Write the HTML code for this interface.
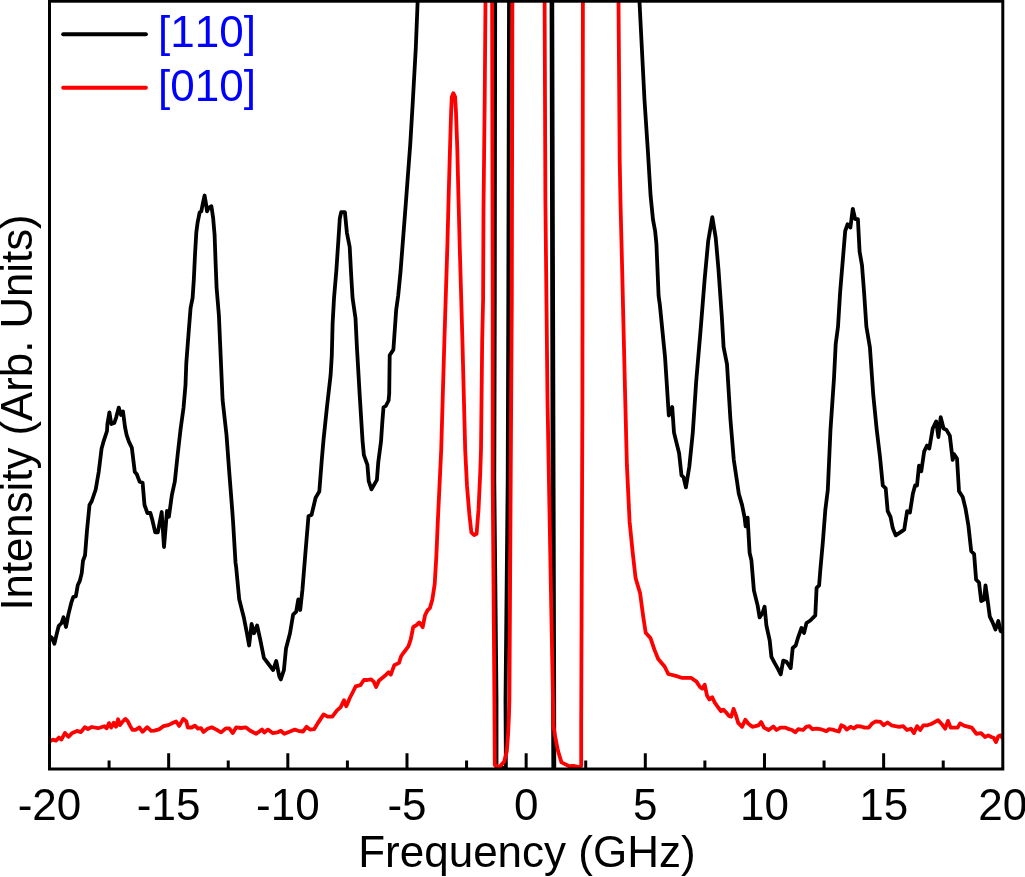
<!DOCTYPE html>
<html><head><meta charset="utf-8"><title>Brillouin spectra</title>
<style>
html,body{margin:0;padding:0;background:#fff;}
svg{display:block;}
text{font-family:"Liberation Sans",sans-serif;font-kerning:none;}
</style></head>
<body>
<svg width="1025" height="877" viewBox="0 0 1025 877">
<rect width="1025" height="877" fill="#fff"/>
<defs><clipPath id="c"><rect x="49.5" y="1.2" width="953.3" height="767.8"/></clipPath></defs>
<g clip-path="url(#c)" fill="none" stroke-linejoin="round" stroke-linecap="round">
<path d="M50.5 636.8 L51.8 637.8 L54.4 643.7 L56.7 634 L58.7 626 L61.6 623 L63.5 617.3 L66 627 L68.4 614.4 L71.3 602.7 L73.3 596.8 L75.8 596.4 L77.8 585 L79.7 581.2 L81.7 573.4 L83 560.7 L85 555.5 L87 530.5 L89.5 505 L91.8 501 L95.7 489.5 L98.7 472 L101.6 448.5 L103.5 441.7 L107 431 L107.4 424 L109.4 412.4 L111.3 424 L114.3 423 L116.2 417.3 L118.8 407.6 L121 415 L123 411.5 L125 427 L126.6 434.9 L128.9 441.7 L131.8 447.6 L134.8 472 L136.7 474 L139.6 481.7 L142.6 482.7 L144.5 505 L147.4 513 L150.4 513 L152.3 519.8 L155.2 532.4 L157.8 532.4 L161.7 512 L164 547 L167 511 L168.9 516.8 L171.8 495.4 L174.8 481.7 L177.7 454.4 L180.6 429 L183.5 408 L185.5 385 L186.3 363 L188.8 330.4 L190.6 307.8 L192.6 297.8 L193.8 280 L195 255 L196.3 232.6 L197.6 222.6 L199.6 212.6 L201.3 211.3 L203 202.6 L204.6 195.5 L205.8 202.6 L207 211.3 L208.8 207.6 L211.4 206.3 L213.1 217.6 L214.6 235 L215.6 262.7 L216.6 287.8 L218.9 315.3 L220.1 343 L221.4 373 L222.6 400 L226.5 434.9 L229.4 474 L232.3 511 L233.1 522.4 L235.5 562.4 L236.2 567.6 L239.2 599.3 L243.9 617.8 L246.9 633.2 L249.1 645.5 L251.6 624 L254 633.2 L257.1 625.5 L260.2 639.4 L263.9 657.8 L268.5 664 L273.1 670.1 L276.2 661 L279.3 676.3 L280.8 679.4 L283.9 670.1 L286 648.6 L290 633.2 L293.1 614.7 L296.2 611.6 L298.3 599.3 L300.2 610 L302.4 590 L305.4 553.2 L308.5 516.2 L311.6 514.7 L315.6 497.7 L319.3 491.6 L321.7 460.8 L323.5 440 L327 406.6 L330.6 375.3 L331.8 355.3 L332.6 324 L334 298.3 L336.4 269.8 L338.3 241.3 L339.8 218.5 L341.2 212.2 L344.9 212.2 L346.9 232.8 L349.7 247 L351.2 275.5 L352.6 298.3 L355.5 318.3 L356.9 346.8 L359.7 395.2 L362.6 441.6 L363.9 455.2 L367.4 464.8 L368.7 481.2 L371.5 489.4 L376.9 479.9 L378.3 462 L381 441.6 L382.4 421 L383.5 407.4 L385.8 406 L388.6 400.5 L389.2 393.7 L389.7 355.3 L393.4 349.6 L396.2 309.7 L398.2 295.5 L400.5 272 L405.5 207.5 L410.3 143.7 L412.6 105 L415.8 47.9 L417.7 0 L418.5 -30 L494.5 -30 L495.2 0 L494.8 300 L494.3 480 L496.5 700 L496.5 768 L505.9 768 L505.5 700 L507.7 480 L508.3 300 L509 0 L509.5 -30 L551 -30 L551.5 0 L553 700 L553.3 768 L554.3 768 L554.2 700 L552.3 0 L552.3 -30 L638.5 -30 L639.4 0 L644.5 100 L647.9 151.3 L650.6 195.8 L653 219.7 L655.1 230.8 L656.4 243.7 L658.6 295.8 L659.9 305.3 L663.7 343.7 L665 356.6 L666.4 377.9 L668.8 415.5 L672.2 407 L674 432.6 L679.1 453.2 L681.5 475.4 L683.5 477.1 L685.9 487.4 L689.3 466.8 L692.8 432.6 L696.2 381.3 L700.6 330 L704.7 278.7 L708.2 241 L712.3 217.1 L715.7 237.6 L718.4 268.4 L721.8 316.3 L723.6 347.1 L727 364.2 L730.4 419 L733.8 460 L737.1 482 L738.8 493.8 L742.1 505.1 L744.6 517.6 L745.6 526.4 L747.6 517.6 L749.6 552.7 L751.4 560.3 L753.9 590.4 L757.6 605.4 L759.6 617.4 L762.6 612.9 L764.6 606.7 L766.4 625.5 L769.7 640.5 L771.4 656.8 L774.7 663.1 L778.2 669.4 L780.7 674.4 L783.2 660.6 L786.5 661.8 L790.7 668.1 L792.7 648 L795.7 645.5 L798.3 636.8 L801.5 628 L804 633 L806.5 623 L810.3 620.5 L814.1 616.7 L815.3 615.4 L816.6 587.8 L819.1 585.3 L820.3 570.3 L822.8 542.7 L825.3 510.1 L827.8 490 L830.5 429.5 L834 378.2 L835.7 344 L838 326.8 L840.1 292.6 L843.5 251.6 L845.2 231 L847.6 224.2 L850.4 227.6 L852.8 208.8 L855.2 219.1 L857.9 219.1 L859.6 251.6 L862 265.3 L864.1 292.6 L866.4 326.8 L869.9 347.4 L873.3 395.3 L876.7 429.5 L880 457 L882.8 485.5 L885.7 488.4 L887.7 511.2 L890.5 516.9 L892.8 528.3 L895.7 535.4 L899.9 532.6 L904.2 529.7 L907.1 511.2 L909.9 512.6 L912.8 494.1 L915.1 485.5 L917 485.5 L919 465.6 L921.3 471.3 L924.2 451.3 L927 445.6 L929.3 448.5 L932.7 428.5 L936.2 421.4 L938.4 437.1 L940.7 417.1 L943.6 428.5 L946.4 429.9 L949.8 435.6 L952.7 459.9 L954.1 454.2 L957 458.5 L959 491.2 L962.7 497 L965.5 508.4 L968.4 525.5 L971.2 551.1 L974.1 554 L976.1 579.6 L979 582.5 L981.2 601 L984.1 599.6 L985.5 585.3 L987.5 599.6 L989.8 616.7 L992.6 622.4 L995.5 629.5 L998.3 621 L1000.6 631 L1002.5 632" stroke="#000" stroke-width="3.8"/>
<path d="M49.7 741.5 L52.8 739.6 L55.9 740.7 L59 737.6 L61.4 739.6 L65 732.9 L68.4 736.8 L72.3 732.9 L77 730.9 L80.9 732.1 L84.8 727.2 L87.9 729 L91.8 727 L98.1 728.2 L104.3 726.2 L106.7 728.2 L109 723.1 L111.3 727.5 L113.7 722.8 L116 726.7 L118.1 719.3 L119.9 725.1 L122.3 722 L125.4 718.9 L127.7 721.2 L130.1 725.9 L132.4 729.8 L135.5 729.8 L139.4 727.5 L142.6 731.8 L147.2 727.2 L151.2 730.9 L154.3 730.6 L159 729.3 L163.6 726.2 L168.3 725.1 L171.4 723.6 L176.1 721.5 L179.2 725.9 L183.2 718.9 L186.3 721.2 L187.8 727.5 L191.7 727.5 L194.9 725.6 L198 728.7 L201.1 728.2 L203.5 732 L207 729.1 L211.7 727.3 L216.4 729.6 L221.1 732.4 L225.8 728.4 L229.3 728.4 L232.8 733.1 L236.3 727.3 L241 728 L245.7 727.3 L250.3 730.8 L256.2 733.8 L262 729.6 L264.4 732.4 L267.9 729.6 L272.6 733.1 L277.3 732.4 L280.8 730.8 L284.3 733.8 L290.1 731.5 L294.8 729.6 L298.3 730.8 L303 731.5 L306.5 726.8 L310 729.6 L314.3 729.1 L318.2 722.6 L323.6 714.4 L327.6 716.7 L332.3 716.7 L337 710.4 L340.5 707.4 L344 700.3 L346.3 706.2 L349.8 698 L353.4 691 L355.7 686.3 L360.4 685.1 L363.9 680 L367.4 680 L370.9 679.3 L373.7 681.6 L376.1 687 L379.1 680.4 L385 675.8 L388.5 672.2 L390.8 674.6 L394.3 665.2 L399 662.9 L401.2 656 L404.8 651.1 L408.4 646.4 L410.8 639.2 L413.2 627.2 L416.8 624.8 L419.2 622.4 L422.7 627.2 L425.1 615.2 L427.5 610.4 L429.9 608 L432.3 599.7 L434.7 584.1 L436.4 555.4 L437.8 521.8 L439.5 485.9 L441.2 450 L444.4 340 L447.4 245 L448.7 194.6 L450 148.9 L451.1 112.4 L451.8 97 L453.3 93.2 L455.1 96.9 L456 112.4 L457.3 148.9 L458.4 194.6 L459.7 245.2 L462.4 340 L465.2 450 L467 485.9 L469.4 514.7 L471.4 532.6 L474.2 535 L476.6 533.8 L478.5 509.9 L480.2 473.9 L481 450 L482.2 340 L483.1 300 L483.5 210 L484.7 100 L485.5 0 L486 -30 L491.5 -30 L492.1 0 L492.7 300 L492.7 480 L494.4 700 L494.8 765 L499.1 767.5 L504.2 761.5 L506.8 751.3 L508.1 734.2 L508.9 717.1 L509.4 700 L510.7 480 L511.8 300 L512.4 0 L513 -30 L544 -30 L544.6 0 L545.4 200 L547.5 400 L551.1 600 L553 700 L553.4 725.6 L555.5 738.5 L558.1 751.3 L561.5 762.4 L569.2 766.2 L573.5 765.8 L579.4 767 L581.2 765.8 L581.2 725.6 L582.4 400 L582.9 0 L583 -30 L618 -30 L618.5 0 L619.7 160 L620.5 202.6 L622.2 271 L625 390 L626.9 465.2 L629.6 521.7 L632.6 551.8 L635.6 578.1 L640.1 593.2 L643.1 615.7 L645.7 632.7 L650.6 638.3 L654.4 649.6 L658.2 659 L664.6 666.5 L668.3 674 L675.8 675.9 L681.5 677.8 L690.9 677.8 L696.5 681.6 L700 687 L702.3 688.6 L704.7 684.7 L707 695.6 L709.4 699.5 L712.2 697.2 L714.8 702.6 L718 707.3 L721.1 711.2 L723.4 709.7 L725.8 712 L728.9 715.9 L731.2 716.7 L733.6 708.9 L735.9 715.1 L738.2 722.9 L742.1 726.8 L745.3 719.8 L748.4 723.7 L752.3 726.8 L755.4 726.1 L758.5 725.3 L761.2 722.1 L764 727.6 L768.7 730 L773.4 726.5 L776.5 730 L780.4 727.6 L785.1 727.6 L789 729.2 L792.1 730 L795.2 732.3 L798.3 729.2 L803 730 L806.2 726.8 L809.3 726.1 L812.4 729.2 L816.3 728.7 L820.2 729.2 L823.3 730 L826.4 731.2 L828.8 729.2 L832.7 729.6 L835.8 730.7 L838.9 731.5 L841.3 725.3 L844.4 726.8 L846.7 729.6 L850.6 726.8 L853.8 728.4 L857 726.1 L860.9 726.5 L864.8 727.6 L868.7 727.6 L871.9 723.7 L875.8 721.4 L880.4 721.8 L883.6 725.3 L887.5 722.5 L891.4 725.3 L895.3 726.1 L899.2 726.8 L903.1 726.1 L907 730 L910.9 728.7 L914 733.1 L917.1 726.1 L920.2 730 L923.4 725.3 L927.3 725.3 L931.2 724 L935.1 721.8 L938.2 720.3 L942.1 724.5 L945.2 728.7 L948 720.9 L950.7 727.6 L954.6 727.6 L957.7 727.6 L960.1 723.4 L964 725.6 L968.6 726.8 L971.8 727.6 L976.4 733.9 L981.1 733.1 L985 737 L988.2 735.4 L991.3 737 L993.6 737.8 L996 742.1 L998.3 736.2 L1000.6 735.4 L1002.2 737.8" stroke="#f00" stroke-width="3.8"/>
</g>
<g fill="none" stroke="#000" stroke-width="3">
<path d="M109.08 769 V760.60 M168.66 769 V753.20 M228.24 769 V760.60 M287.82 769 V753.20 M347.41 769 V760.60 M406.99 769 V753.20 M466.57 769 V760.60 M526.15 769 V753.20 M585.73 769 V760.60 M645.31 769 V753.20 M704.89 769 V760.60 M764.48 769 V753.20 M824.06 769 V760.60 M883.64 769 V753.20 M943.22 769 V760.60" stroke-width="3"/>
<rect x="49.5" y="1.2" width="953.3" height="767.8"/>
</g>
<g stroke-linecap="round" stroke-width="4">
<line x1="63.2" x2="145.9" y1="34.3" y2="34.3" stroke="#000"/>
<line x1="63.2" x2="145.9" y1="87.8" y2="87.8" stroke="#f00"/>
</g>
<g font-size="44" fill="#0000ff">
<text x="158" y="46.6">[110]</text>
<text x="158" y="100.6">[010]</text>
</g>
<g font-size="44" fill="#000">
<text x="49.50" y="819.8" text-anchor="middle">-20</text>
<text x="168.66" y="819.8" text-anchor="middle">-15</text>
<text x="287.82" y="819.8" text-anchor="middle">-10</text>
<text x="406.99" y="819.8" text-anchor="middle">-5</text>
<text x="526.15" y="819.8" text-anchor="middle">0</text>
<text x="645.31" y="819.8" text-anchor="middle">5</text>
<text x="764.48" y="819.8" text-anchor="middle">10</text>
<text x="883.64" y="819.8" text-anchor="middle">15</text>
<text x="1002.80" y="819.8" text-anchor="middle">20</text>
</g>
<text x="358.2" y="867.1" font-size="44" fill="#000">Frequency (GHz)</text>
<text transform="translate(32.0 610.6) rotate(-90)" font-size="43.75" fill="#000">Intensity (Arb. Units)</text>
</svg>
</body></html>
